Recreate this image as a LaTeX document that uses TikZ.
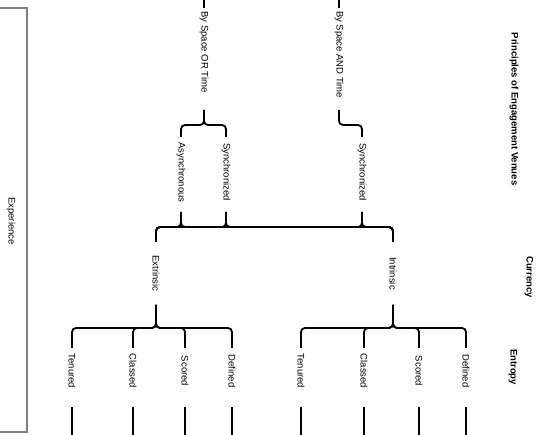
\documentclass[tikz,border=0pt]{standalone}
\usepackage{fontspec}
\setmainfont{Liberation Sans}
\usepackage{tikz}
\tikzset{lbl/.style={rotate=-90,inner sep=0pt,font=\fontsize{9.5}{11}\selectfont},
hdr/.style={lbl,font=\fontsize{9.5}{11}\selectfont\bfseries},
frm/.style={draw=black!50,line width=1.2pt},
brc/.style={line width=1.8pt,rounded corners=4pt},
stub/.style={line width=2.2pt}}

\begin{document}
\begin{tikzpicture}[x=1pt,y=-1pt]
    \useasboundingbox (0,0) rectangle (552,435);
    \node[lbl] (exp) at (11,221) {Experience};
    \draw [frm] (0,8) -- (27,8) -- (27,432) -- (0,432);
    \node[hdr] (pev) at (514,109) {Principles of Engagement Venues};
    \node[hdr] (cur) at (529,277) {Currency};
    \node[hdr] (ent) at (513,367) {Entropy};

    \node[lbl] (spor) at (204,52) {By Space OR Time};
    \node[lbl] (spand) at (339,54.5) {By Space AND Time};
    \node[lbl] (asy) at (181,172.5) {Asynchronous};
    \node[lbl] (syn) at (226,172) {Synchronized};
    \node[lbl] (syn2) at (362,172) {Synchronized};
    \node[lbl] (ext) at (156,273.5) {Extrinsic};
    \node[lbl] (int) at (393,273.5) {Intrinsic};
    \node[lbl] (ten) at (72,371) {Tenured};
    \node[lbl] (cla) at (133,371) {Classed};
    \node[lbl] (sco) at (185,371) {Scored};
    \node[lbl] (def) at (232,371) {Defined};
    \node[lbl] (ten2) at (301,371) {Tenured};
    \node[lbl] (cla2) at (364,371) {Classed};
    \node[lbl] (sco2) at (419,371) {Scored};
    \node[lbl] (def2) at (466,371) {Defined};

    \draw [stub] (spor |- 0,-5) to [] (spor |- 0,8);
    \draw [stub] (spand |- 0,-5) to [] (spand |- 0,8);

    \draw [brc] (spor |- 0,110) |- (asy |- 0,125) to [] (asy |- 0,137);
    \draw [brc] (spor |- 0,110) |- (syn |- 0,125) to [] (syn |- 0,137);
    \draw [brc] (spand |- 0,110) |- (syn2 |- 0,125) to [] (syn2 |- 0,137);

    \draw [brc] (asy |- 0,212) |- (ext |- 0,227) to [] (ext |- 0,242);
    \draw [brc] (asy |- 0,212) |- (int |- 0,227) to [] (int |- 0,242);
    \draw [brc] (syn |- 0,212) |- (ext |- 0,227) to [] (ext |- 0,242);
    \draw [brc] (syn |- 0,212) |- (int |- 0,227) to [] (int |- 0,242);
    \draw [brc] (syn2 |- 0,212) |- (ext |- 0,227) to [] (ext |- 0,242);
    \draw [brc] (syn2 |- 0,212) |- (int |- 0,227) to [] (int |- 0,242);

    \draw [brc] (ext |- 0,305) |- (ten |- 0,328) to [] (ten |- 0,348);
    \draw [brc] (ext |- 0,305) |- (cla |- 0,328) to [] (cla |- 0,348);
    \draw [brc] (ext |- 0,305) |- (sco |- 0,328) to [] (sco |- 0,348);
    \draw [brc] (ext |- 0,305) |- (def |- 0,328) to [] (def |- 0,348);
    \draw [brc] (int |- 0,305) |- (ten2 |- 0,328) to [] (ten2 |- 0,348);
    \draw [brc] (int |- 0,305) |- (cla2 |- 0,328) to [] (cla2 |- 0,348);
    \draw [brc] (int |- 0,305) |- (sco2 |- 0,328) to [] (sco2 |- 0,348);
    \draw [brc] (int |- 0,305) |- (def2 |- 0,328) to [] (def2 |- 0,348);

    \draw [stub] (ten |- 0,407) to [] (ten |- 0,440);
    \draw [stub] (cla |- 0,407) to [] (cla |- 0,440);
    \draw [stub] (sco |- 0,407) to [] (sco |- 0,440);
    \draw [stub] (def |- 0,407) to [] (def |- 0,440);
    \draw [stub] (ten2 |- 0,407) to [] (ten2 |- 0,440);
    \draw [stub] (cla2 |- 0,407) to [] (cla2 |- 0,440);
    \draw [stub] (sco2 |- 0,407) to [] (sco2 |- 0,440);
    \draw [stub] (def2 |- 0,407) to [] (def2 |- 0,440);
\end{tikzpicture}
\end{document}
